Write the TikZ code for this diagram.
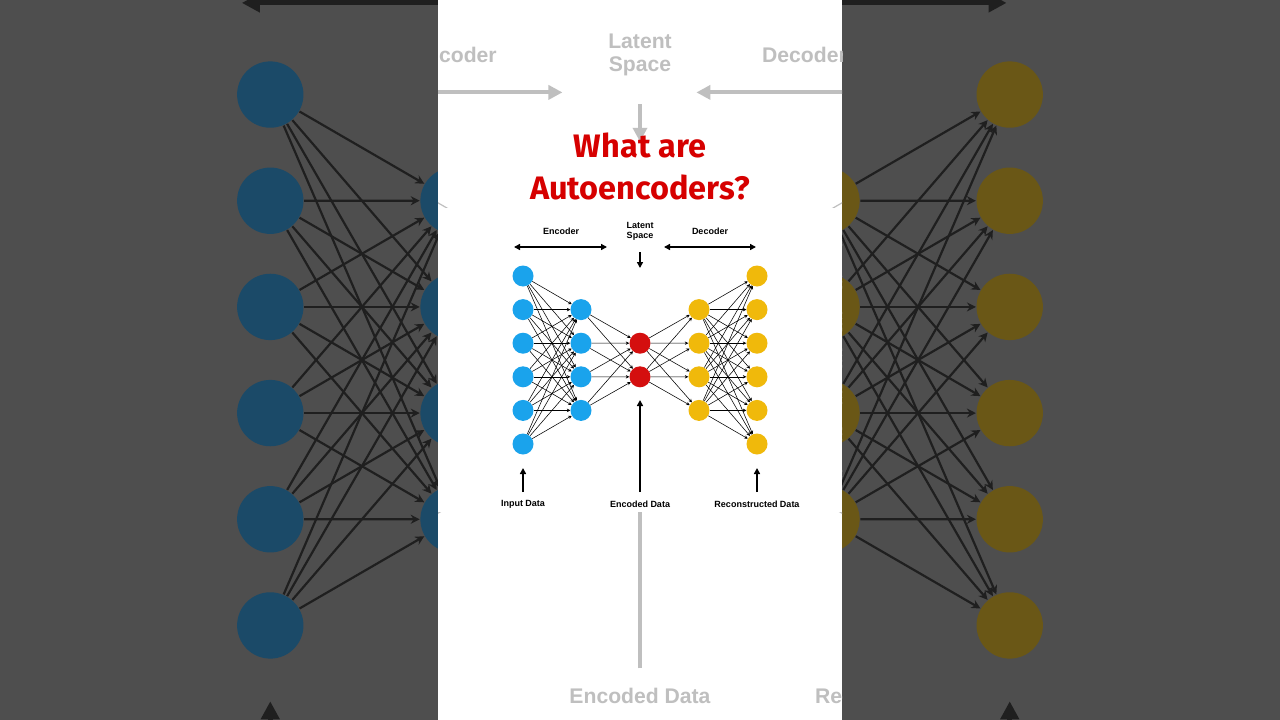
\documentclass[tikz,border=0pt]{standalone}
\usepackage{fontspec}
\setmainfont{Liberation Sans}
\newfontfamily\titlefont{Fira Sans}
\usetikzlibrary{arrows.meta}
\definecolor{cA}{HTML}{1AA3EC}\definecolor{cB}{HTML}{D40F0F}\definecolor{cC}{HTML}{F0B90B}\definecolor{cL}{HTML}{000000}
\tikzset{nd/.style={circle,inner sep=0pt,minimum size=21pt},
lbl/.style={font=\bfseries\fontsize{9}{10}\selectfont,text=cL,align=center,inner sep=0pt}}
% #1 prefix, #2 edge width, #3 edge tip length, #4 big width, #5 big tip length
\newcommand\aenet[5]{%
\foreach \i in {1,...,6}{\node[nd,fill=cA] (#1a\i) at (-117,{-84+33.6*(\i-1)}) {};
 \node[nd,fill=cC] (#1e\i) at (117,{-84+33.6*(\i-1)}) {};}
\foreach \i in {1,...,4}{\node[nd,fill=cA] (#1b\i) at (-59,{-50.4+33.6*(\i-1)}) {};
 \node[nd,fill=cC] (#1d\i) at (59,{-50.4+33.6*(\i-1)}) {};}
\foreach \i in {1,2}{\node[nd,fill=cB] (#1c\i) at (0,{-16.8+33.6*(\i-1)}) {};}
\begin{scope}[draw=cL,line width=#2,-{Stealth[length=#3,width=#3]}]
\foreach \i in {1,...,6}\foreach \j in {1,...,4}{\draw (#1a\i) -- (#1b\j); \draw (#1d\j) -- (#1e\i);}
\foreach \i in {1,...,4}\foreach \j in {1,2}{\draw (#1b\i) -- (#1c\j); \draw (#1c\j) -- (#1d\i);}
\end{scope}
\begin{scope}[draw=cL,line width=#4]
\coordinate (#1p1) at (-126,-113);\coordinate (#1p2) at (-33,-113);
\coordinate (#1p3) at (24,-113);\coordinate (#1p4) at (116,-113);
\coordinate (#1p5) at (0,-108);\coordinate (#1p6) at (0,-92);
\draw[{Triangle[length=#5,width=#5]}-{Triangle[length=#5,width=#5]}] (#1p1) -- (#1p2);
\draw[{Triangle[length=#5,width=#5]}-{Triangle[length=#5,width=#5]}] (#1p3) -- (#1p4);
\draw[-{Triangle[length=#5,width=#5]}] (#1p5) -- (#1p6);
\coordinate (#1q1) at (-117,132);\coordinate (#1q2) at (-117,108);
\coordinate (#1q3) at (0,132);\coordinate (#1q4) at (0,40);
\coordinate (#1q5) at (117,132);\coordinate (#1q6) at (117,108);
\draw[-{Triangle[length=#5,width=#5]}] (#1q1) -- (#1q2);
\draw[-{Triangle[length=#5,width=#5]}] (#1q3) -- (#1q4);
\draw[-{Triangle[length=#5,width=#5]}] (#1q5) -- (#1q6);
\end{scope}
\node[lbl] (#1t1) at (-79,-129) {Encoder};
\node[lbl] (#1t2) at (0,-129) {Latent\\Space};
\node[lbl] (#1t3) at (70,-129) {Decoder};
\node[lbl] (#1t4) at (-117,144) {Input Data};
\node[lbl] (#1t5) at (0,144) {Encoded Data};
\node[lbl] (#1t6) at (117,144) {Reconstructed Data};
}
\begin{document}
\begin{tikzpicture}[x=1pt,y=-1pt]
\useasboundingbox (0,0) rectangle (1280,720);
\fill[fill={rgb,255:red,78;green,78;blue,78}] (0,0) rectangle (1280,720);
% blurred sides
\begin{scope}
\clip (0,0) rectangle (438,720) (842,0) rectangle (1280,720);
\definecolor{cA}{HTML}{1B4A68}\definecolor{cB}{HTML}{5A1D1D}\definecolor{cC}{HTML}{6A5716}\colorlet{cL}{black!88}
\begin{scope}[shift={(640,360)},scale=3.16,transform shape]
\aenet{s}{2.2pt}{9pt}{5pt}{18pt}
\end{scope}
\end{scope}
% faint center
\begin{scope}
\clip (438,0) rectangle (842,720);
\fill[white] (438,0) rectangle (842,720);
\colorlet{cA}{white}\colorlet{cB}{white}\colorlet{cC}{white}\colorlet{cL}{black!25}
\begin{scope}[shift={(640,358)},scale=2.35,transform shape]
\aenet{f}{1.2pt}{7pt}{4pt}{14pt}
\end{scope}
\end{scope}
\fill[white] (438,208) rectangle (842,512);
\begin{scope}[shift={(640,360)}]
\aenet{m}{0.55pt}{3.5pt}{1.5pt}{6pt}
\end{scope}
\node[font=\titlefont\bfseries\fontsize{32.5}{42}\selectfont,text={rgb,255:red,214;green,0;blue,0},align=center] (title) at (640,166) {What are\\Autoencoders?};
\end{tikzpicture}
\end{document}
